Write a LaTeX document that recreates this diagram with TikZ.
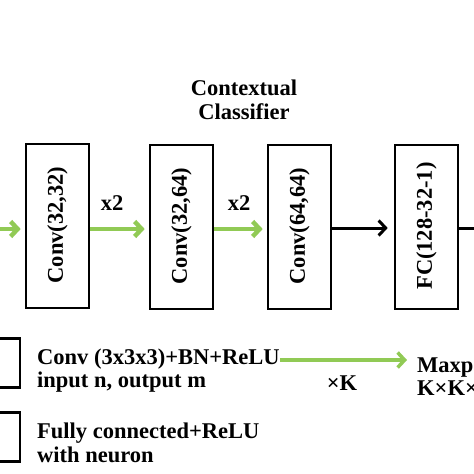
\documentclass[tikz,border=0pt]{standalone}
\usepackage{fontspec}
\setmainfont{Liberation Serif}
\usetikzlibrary{arrows.meta}
\definecolor{arrgreen}{RGB}{145,202,85}
\begin{document}
\begin{tikzpicture}[x=1pt,y=-1pt,
  every node/.style={font=\fontsize{22.5}{23.5}\selectfont\bfseries, inner sep=0pt},
  blockbox/.style={draw, line width=2.6pt, minimum width=63pt, minimum height=164pt},
  legbox/.style={draw, line width=2.6pt, minimum width=50pt, minimum height=49pt},
  greenarr/.style={draw=arrgreen, line width=4.5pt, -{Straight Barb[length=7pt,width=15pt]}, shorten >=4pt},
  blackarr/.style={draw=black, line width=3pt, -{Straight Barb[length=7pt,width=15pt]}, shorten >=6pt}
]
\useasboundingbox (0,0) rectangle (474,474);
% title
\node[align=center] (title) at (244,100) {Contextual\\Classifier};
% blocks
\node[blockbox] (c1) at (57.5,226) {};
\node[blockbox] (c2) at (181.5,227) {};
\node[blockbox] (c3) at (299.5,227) {};
\node[blockbox] (c4) at (426.5,227) {};
\node[rotate=90] (t1) at (57.5,225) {Conv(32,32)};
\node[rotate=90] (t2) at (181.5,226) {Conv(32,64)};
\node[rotate=90] (t3) at (299.5,226) {Conv(64,64)};
\node[rotate=90] (t4) at (426.5,226) {FC(128-32-1)};
% connectors
\coordinate (lin) at (-10,229);
\coordinate (rout) at (480,228);
\draw[greenarr] (lin) -- (c1.west |- lin);
\draw[greenarr] (c1.east |- 0,229) -- (c2.west |- 0,229);
\draw[greenarr] (c2.east |- 0,229) -- (c3.west |- 0,229);
\draw[blackarr] (c3.east |- 0,228) -- (c4.west |- 0,228);
\draw[line width=3pt] (c4.east |- rout) -- (rout);
\node (x0) at (-13,203) {x2};
\node (x1) at (112,203) {x2};
\node (x2) at (239,203) {x2};
% legend
\node[legbox] (la) at (-5,363) {};
\node[legbox] (lb) at (-5,437) {};
\node[anchor=west, align=left] (lta) at (37,370.5) {Conv (3x3x3)+BN+ReLU\\input n, output m};
\node[anchor=west, align=left] (ltb) at (37,443) {Fully connected+ReLU\\with neuron};
\coordinate (ga) at (280,360);
\node[anchor=west, align=left] (mp) at (417,376) {Maxpooling\\K×K×K};
\draw[greenarr, line width=3.5pt, shorten >=10pt] (ga) -- (mp.west |- ga);
\node (xk) at (342,383) {×K};
\end{tikzpicture}
\end{document}
